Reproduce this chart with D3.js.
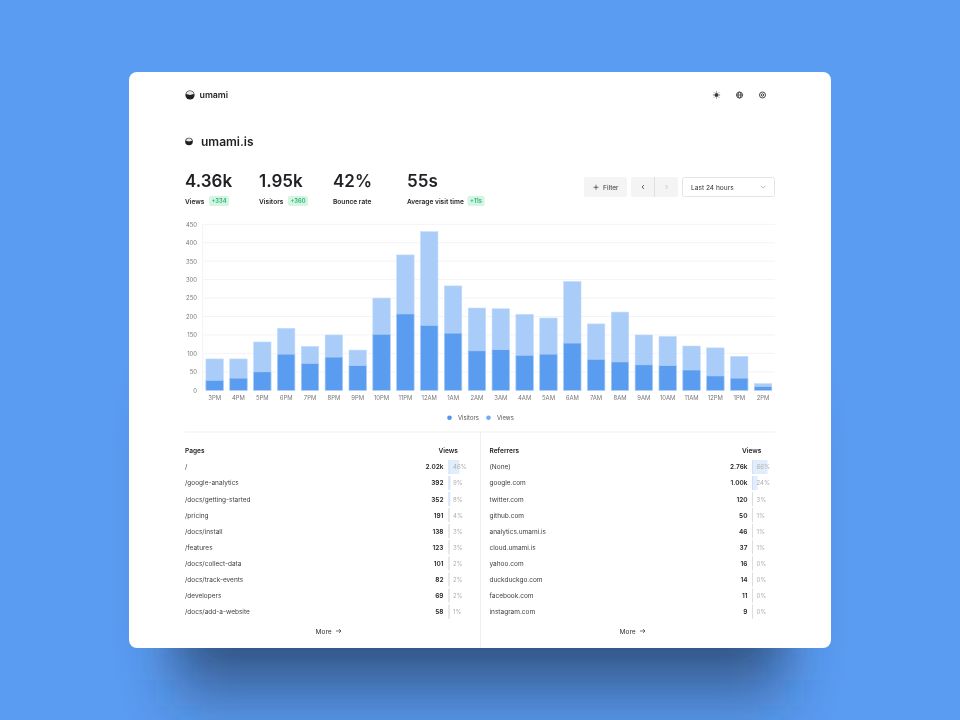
<!DOCTYPE html>
<html><head><meta charset="utf-8">
<style>html,body{margin:0;padding:0;background:#5a9cf2;overflow:hidden}svg{display:block;filter:blur(.3px)}text{font-family:Inter,"Noto Sans",sans-serif}</style>
<script src="https://cdn.jsdelivr.net/npm/d3@7/dist/d3.min.js"></script></head>
<body><script>
const hours=["3PM","4PM","5PM","6PM","7PM","8PM","9PM","10PM","11PM","12AM","1AM","2AM","3AM","4AM","5AM","6AM","7AM","8AM","9AM","10AM","11AM","12PM","1PM","2PM"];
const views=[85,85,131,168,119,150,109,250,367,430,283,223,221,206,196,295,180,212,150,146,120,115,92,18];
const visitors=[27,33,50,98,73,90,67,152,207,176,155,107,110,95,98,128,84,77,69,67,55,39,33,10];
const yTicks=[0,50,100,150,200,250,300,350,400,450];
const pages=["/","/google-analytics","/docs/getting-started","/pricing","/docs/install","/features","/docs/collect-data","/docs/track-events","/developers","/docs/add-a-website"];
const pageViews=["2.02k","392","352","191","138","123","101","82","69","58"];
const pagePct=[46,9,8,4,3,3,2,2,2,1];
const refs=["(None)","google.com","twitter.com","github.com","analytics.umami.is","cloud.umami.is","yahoo.com","duckduckgo.com","facebook.com","instagram.com"];
const refViews=["2.76k","1.00k","120","50","46","37","16","14","11","9"];
const refPct=[66,24,3,1,1,1,0,0,0,0];
const statValues=["4.36k","1.95k","42%","55s"];
const statLabels=["Views","Visitors","Bounce rate","Average visit time"];
const statDeltas=["+334","+360",null,"+11s"];
const statX=[185,259,333,407];
const badgeX=[209,288,null,467.5];
const badgeW=[20,20,null,17];

const svg=d3.select("body").append("svg").attr("width",960).attr("height",720);
const defs=svg.append("defs");
const f=defs.append("filter").attr("id","sh").attr("filterUnits","userSpaceOnUse").attr("x",0).attr("y",300).attr("width",960).attr("height",420);
f.append("feGaussianBlur").attr("stdDeviation","28 40");
svg.append("rect").attr("x",175).attr("y",400).attr("width",610).attr("height",280).attr("fill","#1a2a45").attr("opacity",.75).attr("filter","url(#sh)");
svg.append("rect").attr("x",129).attr("y",72).attr("width",702).attr("height",576).attr("rx",8).attr("fill","#fff");

const ink="#1f2024";
function T(x,y,s,size,weight,fill,anchor){return svg.append("text").attr("x",x).attr("y",y).text(s).attr("font-size",size).attr("font-weight",weight||400).attr("fill",fill||ink).attr("text-anchor",anchor||"start");}
function logo(cx,cy,r){
  svg.append("circle").attr("cx",cx).attr("cy",cy).attr("r",r).attr("fill",ink);
  svg.append("path").attr("d",d3.arc()({innerRadius:0,outerRadius:r-.6,startAngle:-Math.PI/2+.25,endAngle:Math.PI/2-.25})).attr("transform",`translate(${cx},${cy})`).attr("fill","#e8e8e8");
}
logo(190,95,4.6); T(199.5,98.3,"umami",8.8,600);
logo(189,141.5,3.8); T(201,146,"umami.is",12,600);

// header icons
const ic=svg.append("g").attr("fill","none").attr("stroke","#333").attr("stroke-width",.9);
ic.append("circle").attr("cx",716.5).attr("cy",95).attr("r",1.6).attr("fill","#333");
d3.range(8).forEach(i=>{const a=i*Math.PI/4;ic.append("line").attr("x1",716.5+2.5*Math.cos(a)).attr("y1",95+2.5*Math.sin(a)).attr("x2",716.5+3.6*Math.cos(a)).attr("y2",95+3.6*Math.sin(a)).attr("stroke-width",.7);});
ic.append("circle").attr("cx",739.5).attr("cy",95).attr("r",3);
ic.append("ellipse").attr("cx",739.5).attr("cy",95).attr("rx",1.4).attr("ry",3).attr("stroke-width",.8);
ic.append("line").attr("x1",736.5).attr("x2",742.5).attr("y1",95).attr("y2",95).attr("stroke-width",.8);
ic.append("circle").attr("cx",762.5).attr("cy",95).attr("r",3);
ic.append("circle").attr("cx",762.5).attr("cy",95).attr("r",1.2);

// stats
statValues.forEach((v,i)=>{
  T(statX[i],186.5,v,17,600);
  T(statX[i],204,statLabels[i],6.6,600);
  if(statDeltas[i]){
    svg.append("rect").attr("x",badgeX[i]).attr("y",196).attr("width",badgeW[i]).attr("height",10).attr("rx",2).attr("fill","#d4f5e3");
    T(badgeX[i]+badgeW[i]/2,203.3,statDeltas[i],5.8,600,"#27b26f","middle");
  }
});

// controls
const btn="#f4f4f5";
svg.append("rect").attr("x",584).attr("y",177).attr("width",43).attr("height",20).attr("rx",2).attr("fill",btn);
svg.append("path").attr("d","M593.5 187.3 h5 m-2.5 -2.5 v5").attr("fill","none").attr("stroke","#333").attr("stroke-width",.7);
T(603,189.6,"Filter",6.6,400,"#333");
svg.append("rect").attr("x",631).attr("y",177).attr("width",47).attr("height",20).attr("rx",2).attr("fill",btn);
svg.append("line").attr("x1",654.5).attr("x2",654.5).attr("y1",177).attr("y2",197).attr("stroke","#dedfe1");
svg.append("path").attr("d","M644 185 l-2 2 l2 2").attr("fill","none").attr("stroke","#444").attr("stroke-width",.8);
svg.append("path").attr("d","M665.5 185 l2 2 l-2 2").attr("fill","none").attr("stroke","#bbb").attr("stroke-width",.8);
svg.append("rect").attr("x",682.5).attr("y",177.5).attr("width",92).attr("height",19).attr("rx",2).attr("fill","#fff").attr("stroke","#e3e4e6");
T(691,189.8,"Last 24 hours",6.6,400,"#333");
svg.append("path").attr("d","M761 186 l2.2 2 l2.2 -2").attr("fill","none").attr("stroke","#aaa").attr("stroke-width",.8);

// chart
const x=d3.scaleBand().domain(hours).range([202.7,775]).paddingInner(.27).paddingOuter(.135);
const y=d3.scaleLinear().domain([0,450]).range([390.3,224.3]);
const g=svg.append("g");
g.selectAll(".grid").data(yTicks.slice(1)).join("line").attr("x1",202.7).attr("x2",775).attr("y1",d=>y(d)).attr("y2",d=>y(d)).attr("stroke","#f3f3f5").attr("stroke-width",1);
g.append("line").attr("x1",202.7).attr("x2",202.7).attr("y1",224).attr("y2",390).attr("stroke","#f3f3f5");
const ya=g.append("g").attr("transform","translate(200,0)").call(d3.axisLeft(y).tickValues(yTicks).tickSize(0).tickPadding(3));
ya.select(".domain").remove();
ya.selectAll("text").attr("font-size",5.9).attr("fill","#777").attr("font-family","Inter");
const xa=g.append("g").attr("transform","translate(0,392)").call(d3.axisBottom(x).tickSize(0).tickPadding(4));
xa.select(".domain").remove();
xa.selectAll("text").attr("font-size",5.9).attr("fill","#777").attr("font-family","Inter");
g.selectAll(".v").data(hours).join("rect").attr("x",d=>x(d)).attr("width",x.bandwidth()).attr("y",(d,i)=>y(views[i])).attr("height",(d,i)=>y(0)-y(views[i])).attr("fill","#a9ccf8").attr("stroke","#c3dcfa").attr("stroke-width",.6);
g.selectAll(".u").data(hours).join("rect").attr("x",d=>x(d)).attr("width",x.bandwidth()).attr("y",(d,i)=>y(visitors[i])).attr("height",(d,i)=>y(0)-y(visitors[i])).attr("fill","#5a9cef").attr("stroke","#b5d3f8").attr("stroke-width",.6);
// legend
svg.append("circle").attr("cx",449.5).attr("cy",417.7).attr("r",2.3).attr("fill","#4f94ee");
T(458,420,"Visitors",5.9,400,"#555");
svg.append("circle").attr("cx",488.5).attr("cy",417.7).attr("r",2.3).attr("fill","#72acf4");
T(497,420,"Views",5.9,400,"#555");

// tables
svg.append("line").attr("x1",185).attr("x2",775).attr("y1",432).attr("y2",432).attr("stroke","#eeeff1");
svg.append("line").attr("x1",480.5).attr("x2",480.5).attr("y1",432).attr("y2",648).attr("stroke","#eeeff1");
function table(x0,title,names,vals,pcts,numR,barX,more){
  T(x0,453,title,6.6,600);
  T(barX+9.5,453,"Views",6.6,600,ink,"end");
  const ry=d3.scalePoint().domain(d3.range(10)).range([467,611.6]);
  names.forEach((n,i)=>{
    const c=ry(i);
    T(x0,c+2.4,n,6.5,400,"#3d3e42");
    T(numR,c+2.4,vals[i],6.5,600,ink,"end");
    svg.append("rect").attr("x",barX).attr("y",c-7).attr("width",Math.max(1,pcts[i]/100*23.5)).attr("height",14).attr("fill",pcts[i]>5?"#e2edfc":"#e8e9eb");
    svg.append("rect").attr("x",barX).attr("y",c-7).attr("width",1).attr("height",14).attr("fill",pcts[i]>5?"#cddff7":"#dcdde0");
    T(barX+4.5,c+2.4,pcts[i]+"%",6.1,400,"#aeafb3");
  });
  T(more,633.5,"More",6.6,400,"#333");
  svg.append("path").attr("d",`M${more+20.5} 631 h5 m-2 -2 l2 2 l-2 2`).attr("fill","none").attr("stroke","#333").attr("stroke-width",.7);
}
table(185,"Pages",pages,pageViews,pagePct,443.5,448.5,315.5);
table(489.5,"Referrers",refs,refViews,refPct,747.5,752,619.5);
</script></body></html>
